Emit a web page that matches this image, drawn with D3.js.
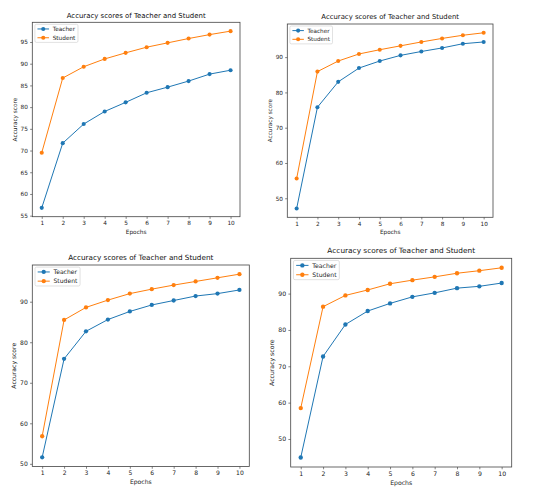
<!DOCTYPE html>
<html><head><meta charset="utf-8">
<script src="https://cdn.jsdelivr.net/npm/d3@7"></script>
<style>html,body{margin:0;padding:0;background:#fff;} svg{display:block;}</style>
</head><body>
<svg id="c" width="537" height="499"></svg>
<script>
const epochs = [1,2,3,4,5,6,7,8,9,10];
const seriesNames = ["Teacher","Student"];
const titleText = "Accuracy scores of Teacher and Student";
const xLabel = "Epochs";
const yLabel = "Accuracy score";

const teacher1 = [56.8,71.7,76.1,79.0,81.1,83.3,84.6,86.0,87.6,88.5];
const student1 = [69.5,86.7,89.3,91.1,92.5,93.8,94.8,95.8,96.7,97.5];
const teacher2 = [47.1,75.8,83.0,86.9,88.9,90.5,91.6,92.6,93.8,94.3];
const student2 = [55.6,85.9,88.9,90.9,92.1,93.2,94.3,95.3,96.2,96.9];
const teacher3 = [51.6,75.9,82.7,85.6,87.6,89.2,90.3,91.4,92.0,92.9];
const student3 = [56.8,85.5,88.6,90.4,92.0,93.1,94.1,95.0,95.9,96.8];
const teacher4 = [44.9,72.7,81.5,85.2,87.3,89.1,90.2,91.5,92.0,92.9];
const student4 = [58.5,86.4,89.5,91.0,92.7,93.7,94.6,95.6,96.3,97.1];

const yTicks1 = [55,60,65,70,75,80,85,90,95];
const yTicks2 = [50,60,70,80,90];
const yTicks3 = [50,60,70,80,90];
const yTicks4 = [50,60,70,80,90];

const panels = [
  {t:teacher1, s:student1, ticks:yTicks1, box:[32.3,22.3,240,216.7]},
  {t:teacher2, s:student2, ticks:yTicks2, box:[287.3,24,493,217.3]},
  {t:teacher3, s:student3, ticks:yTicks3, box:[32.3,265,249.3,466.5]},
  {t:teacher4, s:student4, ticks:yTicks4, box:[290.7,258.3,511.7,467]}
];
const colors = ["#1f77b4","#ff7f0e"];
const svg = d3.select("#c");
const FONT = "DejaVu Sans, sans-serif";

// measure title width at 10px
const meas = svg.append("text").attr("font-family",FONT).attr("font-size",10).text(titleText);
const w10 = meas.node().getComputedTextLength();
meas.remove();

panels.forEach(p => {
  const [x0,y0,x1,y1] = p.box;
  const pw = x1-x0;
  const tf = 10 * (0.67*pw) / w10;   // title font
  const f = tf*10/12;                // tick/label/legend font
  const sc = pw/465;
  const g = svg.append("g");
  const all = p.t.concat(p.s);
  const lo = d3.min(all), hi = d3.max(all), m = (hi-lo)*0.05;
  const x = d3.scaleLinear().domain([1-0.45, 10+0.45]).range([x0,x1]);
  const y = d3.scaleLinear().domain([lo-m, hi+m]).range([y1,y0]);
  const tl = 3.5*1.389*sc;

  const xa = g.append("g").attr("transform",`translate(0,${y1})`)
    .call(d3.axisBottom(x).tickValues(epochs).tickFormat(d3.format("d")).tickSize(tl).tickPadding(3.5*1.389*sc));
  const ya = g.append("g").attr("transform",`translate(${x0},0)`)
    .call(d3.axisLeft(y).tickValues(p.ticks).tickFormat(d3.format("d")).tickSize(tl).tickPadding(3.5*1.389*sc));
  [xa,ya].forEach(a=>{
    a.select(".domain").remove();
    a.selectAll("line").attr("stroke","#333").attr("stroke-width",0.6);
    a.selectAll("text").attr("font-family",FONT).attr("font-size",f).attr("fill","#222");
  });
  g.append("rect").attr("x",x0).attr("y",y0).attr("width",pw).attr("height",y1-y0)
    .attr("fill","none").attr("stroke","#444").attr("stroke-width",0.8);

  g.append("text").attr("x",(x0+x1)/2).attr("y",y0-6*1.389*sc-1)
    .attr("text-anchor","middle").attr("font-family",FONT).attr("font-size",tf).attr("fill","#111").text(titleText);
  g.append("text").attr("x",(x0+x1)/2).attr("y",y1+tl+3.5*1.389*sc+f*1.0+4*1.389*sc+f*0.75)
    .attr("text-anchor","middle").attr("font-family",FONT).attr("font-size",f).attr("fill","#222").text(xLabel);
  // y label position: left of tick labels
  let maxW = 0;
  ya.selectAll("text").each(function(){maxW=Math.max(maxW,this.getComputedTextLength());});
  const yl = x0 - tl - 3.5*1.389*sc - maxW - 4*1.389*sc - f*0.25;
  g.append("text").attr("transform",`translate(${yl},${(y0+y1)/2}) rotate(-90)`)
    .attr("text-anchor","middle").attr("font-family",FONT).attr("font-size",f).attr("fill","#222").text(yLabel);

  const line = d3.line().x((d,i)=>x(epochs[i])).y(d=>y(d));
  [p.t,p.s].forEach((vals,k)=>{
    g.append("path").datum(vals).attr("d",line).attr("fill","none")
      .attr("stroke",colors[k]).attr("stroke-width",Math.max(1,1.5*1.389*sc));
    g.selectAll(null).data(vals).enter().append("circle")
      .attr("cx",(d,i)=>x(epochs[i])).attr("cy",d=>y(d)).attr("r",3*1.389*sc+0.2).attr("fill",colors[k]);
  });

  // legend
  const lx = x0 + 0.45*f, ly = y0 + 0.35*f;
  const lg = g.append("g");
  let tw = 0;
  const rows = seriesNames.map((n,k)=>{
    const cy = ly + 0.8*f + k*1.52*f;
    lg.append("line").attr("x1",lx+0.44*f).attr("x2",lx+2.44*f).attr("y1",cy).attr("y2",cy)
      .attr("stroke",colors[k]).attr("stroke-width",Math.max(1,1.5*1.389*sc));
    lg.append("circle").attr("cx",lx+1.44*f).attr("cy",cy).attr("r",3*1.389*sc+0.2).attr("fill",colors[k]);
    const t = lg.append("text").attr("x",lx+3.06*f).attr("y",cy).attr("dy","0.35em")
      .attr("font-family",FONT).attr("font-size",f).attr("fill","#222").text(n);
    tw = Math.max(tw, t.node().getComputedTextLength());
  });
  lg.insert("rect",":first-child").attr("x",lx).attr("y",ly).attr("width",3.06*f+tw+0.45*f).attr("height",3.12*f)
    .attr("rx",0.25*f).attr("fill","#fff").attr("fill-opacity",0.8).attr("stroke","#ccc").attr("stroke-width",0.6);
});
</script>
</body></html>
